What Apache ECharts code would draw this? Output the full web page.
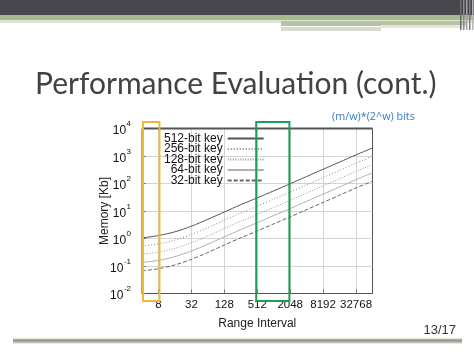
<!DOCTYPE html>
<html><head><meta charset="utf-8">
<script src="https://cdn.jsdelivr.net/npm/echarts@6/dist/echarts.min.js"></script>
<style>html,body{margin:0;padding:0;background:#fff}#c{width:474px;height:355px}</style>
</head><body><div id="c"></div>
<script>
// ---- data ----
const rangeInterval = [4, 8, 16, 32, 64, 128, 256, 512, 1024, 2048, 4096, 8192, 16384, 32768, 65536];
const seriesNames = ['512-bit key', '256-bit key', '128-bit key', '64-bit key', '32-bit key'];
const key512 = [1.05, 1.28, 1.75, 2.8, 5.0, 9.2, 17, 30, 54, 98, 180, 330, 600, 1100, 1950];
const key256 = [0.53, 0.64, 0.88, 1.4, 2.5, 4.6, 8.5, 15, 27, 49, 90, 165, 300, 550, 980];
const key128 = [0.27, 0.32, 0.44, 0.7, 1.25, 2.3, 4.25, 7.5, 13.5, 24.5, 45, 82, 150, 275, 490];
const key64  = [0.135, 0.16, 0.22, 0.35, 0.62, 1.15, 2.1, 3.75, 6.8, 12.2, 22.5, 41, 75, 138, 245];
const key32  = [0.066, 0.08, 0.11, 0.175, 0.31, 0.58, 1.06, 1.88, 3.4, 6.1, 11.2, 20.5, 37.5, 69, 122];
const xTicks = [8, 32, 128, 512, 2048, 8192, 32768];
const yTicks = [0.01, 0.1, 1, 10, 100, 1000, 10000];
const highlightRanges = [[4, 8], [470, 1900]]; // annotation boxes (x ranges)

const allValues = [key512, key256, key128, key64, key32];
const styles = [
  {color: '#555', type: 'solid'},
  {color: '#888', type: [1, 2]},
  {color: '#999', type: [1, 1.5]},
  {color: '#b0b0b0', type: 'solid'},
  {color: '#666', type: [4, 2]}
];

const chart = echarts.init(document.getElementById('c'), null, {renderer: 'canvas'});
const series = seriesNames.map((n, i) => ({
  name: n, type: 'line', symbol: 'none', smooth: 0.3,
  lineStyle: {width: 1, color: styles[i].color, type: styles[i].type},
  itemStyle: {color: styles[i].color},
  data: rangeInterval.map((x, j) => [x, allValues[i][j]])
}));

const font = 'Liberation Sans, Arial, sans-serif';
chart.setOption({
  animation: false,
  grid: {left: 142, right: 101.5, top: 128.5, bottom: 61.5, show: true, borderColor: '#555', borderWidth: 1},
  legend: {
    data: seriesNames, orient: 'vertical', left: 164, top: 132.5,
    align: 'right', itemWidth: 36, itemHeight: 8, itemGap: -1.5, padding: 0,
    itemStyle: {opacity: 0},
    textStyle: {fontFamily: font, fontSize: 12, color: '#111', width: 58, align: 'right', lineHeight: 10}
  },
  xAxis: {
    type: 'log', logBase: 2, min: 4, max: 65536,
    name: 'Range Interval', nameLocation: 'middle', nameGap: 24,
    nameTextStyle: {fontFamily: font, fontSize: 12, color: '#222'},
    axisLine: {show: true, lineStyle: {color: '#555'}},
    axisTick: {show: true, inside: true, length: 4, lineStyle: {color: '#777'}, customValues: xTicks},
    axisLabel: {fontFamily: font, fontSize: 11.5, color: '#111', margin: 5, customValues: xTicks, formatter: v => String(Math.round(v))},
    splitLine: {show: true, lineStyle: {color: '#d4d4d4', width: 1}},
    minorTick: {show: false}
  },
  yAxis: {
    type: 'log', logBase: 10, min: 0.01, max: 10000,
    name: 'Memory [Kb]', nameLocation: 'middle', nameGap: 31, nameRotate: 90, nameMoveOverlap: false,
    nameTextStyle: {fontFamily: font, fontSize: 12, color: '#222'},
    axisLine: {show: true, lineStyle: {color: '#555'}},
    axisTick: {show: true, inside: true, length: 4, lineStyle: {color: '#777'}, customValues: yTicks},
    axisLabel: {
      fontFamily: font, margin: 11, customValues: yTicks,
      formatter: v => '{b|10}{s|' + Math.round(Math.log10(v)) + '}',
      rich: {
        b: {fontFamily: font, fontSize: 12, color: '#111', lineHeight: 17, verticalAlign: 'bottom'},
        s: {fontFamily: font, fontSize: 8, color: '#111', lineHeight: 17, verticalAlign: 'top', padding: [0, 0, 0, 0.5]}
      }
    },
    splitLine: {show: true, lineStyle: {color: '#d4d4d4', width: 1}}
  },
  series: series
});

// slide decoration + annotation boxes
const g = [];
g.push({type: 'rect', shape: {x: 0, y: 0, width: 474, height: 15}, style: {fill: '#48474d'}, z: 10});
g.push({type: 'rect', shape: {x: 0, y: 15, width: 474, height: 5}, style: {fill: '#a8b98f'}, z: 10});
g.push({type: 'rect', shape: {x: 0, y: 20, width: 474, height: 3}, style: {fill: '#dfe5d6'}, z: 10});
g.push({type: 'rect', shape: {x: 281, y: 21, width: 185, height: 5}, style: {fill: '#b7c4a2'}, z: 10});
g.push({type: 'rect', shape: {x: 281, y: 27, width: 100, height: 4}, style: {fill: '#d6dccd'}, z: 10});
g.push({type: 'rect', shape: {x: 381, y: 25, width: 85, height: 3}, style: {fill: '#e4e8dc'}, z: 10});
[[460,'#6d6c70'],[463,'#8a898c'],[466,'#a2a1a4'],[469,'#7c7b7f'],[472,'#b5b4b6']].forEach(([x,c]) =>
  g.push({type: 'rect', shape: {x: x, y: 0, width: 1.5, height: 30}, style: {fill: c}, z: 11}));
g.push({type: 'rect', shape: {x: 13, y: 338.5, width: 449, height: 5},
  style: {fill: new echarts.graphic.LinearGradient(0, 0, 0, 1, [{offset: 0, color: '#c9c9bd'}, {offset: 0.4, color: '#96978b'}, {offset: 1, color: '#d4d4cc'}])}, z: 10});
g.push({type: 'line', shape: {x1: 142, y1: 128.5, x2: 372.5, y2: 128.5}, style: {stroke: '#555', lineWidth: 2}, z: 15});
g.push({type: 'text', x: 35, y: 99, style: {text: 'Performance Evalua\u200Ction (cont.)', font: '30px Lato, "Open Sans", sans-serif', fill: '#424242', textVerticalAlign: 'bottom'}, z: 10});
g.push({type: 'text', x: 332, y: 117, style: {text: '(m/w)*(2^w) bits', font: '10.8px "Open Sans", sans-serif', fill: '#3b7bbf', textVerticalAlign: 'middle'}, z: 10});
g.push({type: 'text', x: 456, y: 330, style: {text: '13/17', font: '13px "Liberation Sans", Arial, sans-serif', fill: '#333', textAlign: 'right', textVerticalAlign: 'middle'}, z: 10});
const boxColors = ['#f0b73a', '#1f9d55'];
highlightRanges.forEach((r, i) => {
  const x0 = chart.convertToPixel({xAxisIndex: 0}, r[0]);
  const x1 = chart.convertToPixel({xAxisIndex: 0}, r[1]);
  g.push({type: 'rect', shape: {x: x0 + 1, y: 122, width: x1 - x0, height: 179}, style: {fill: 'none', stroke: boxColors[i], lineWidth: 2}, z: 20});
});
chart.setOption({graphic: g});
</script></body></html>
